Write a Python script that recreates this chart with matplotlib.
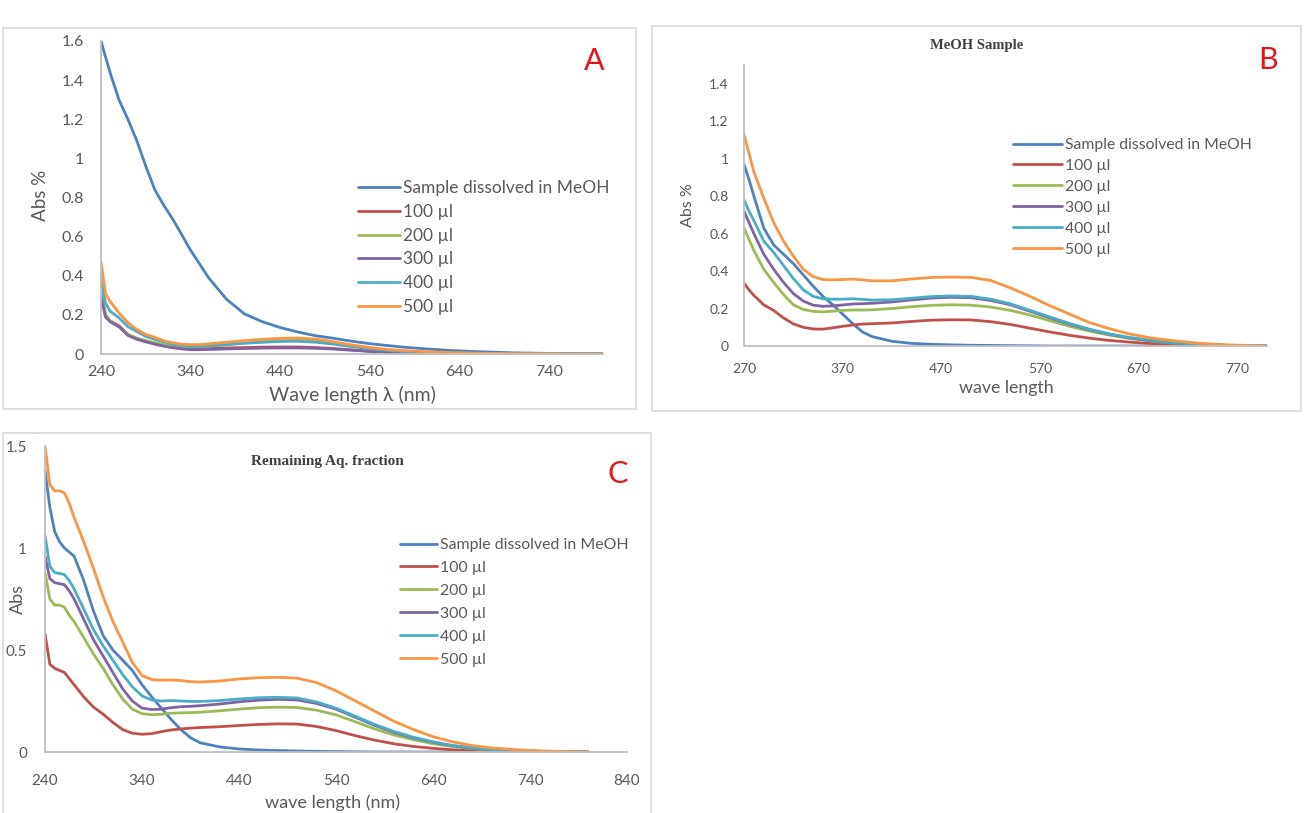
import matplotlib
matplotlib.use("Agg")
import matplotlib.pyplot as plt
from matplotlib.patches import Rectangle
from matplotlib.ticker import FuncFormatter

W, H = 1316, 813
FONT = ['Lato', 'DejaVu Sans']
plt.rcParams['font.family'] = FONT

series_labels = ["Sample dissolved in MeOH", "100 µl", "200 µl", "300 µl", "400 µl", "500 µl"]
colors = ['#4F81BD', '#C0504D', '#9BBB59', '#8064A2', '#4BACC6', '#F79646']

# ---------------- Panel A ----------------
wl_a = [240, 245, 250, 260, 270, 280, 290, 300, 310, 320, 330, 340, 350, 360, 380, 400,
        420, 440, 460, 480, 500, 520, 540, 560, 580, 600, 630, 660, 700, 740, 800]
a_meoh = [1.60, 1.52, 1.44, 1.30, 1.20, 1.09, 0.96, 0.84, 0.76, 0.69, 0.61, 0.53, 0.46, 0.39, 0.28, 0.205,
          0.165, 0.135, 0.112, 0.093, 0.080, 0.065, 0.053, 0.043, 0.034, 0.027, 0.018, 0.012, 0.006, 0.003, 0.0]
a_100 = [0.31, 0.20, 0.17, 0.145, 0.10, 0.08, 0.066, 0.055, 0.045, 0.036, 0.030, 0.027, 0.027, 0.028, 0.031, 0.033,
         0.035, 0.036, 0.036, 0.033, 0.028, 0.021, 0.015, 0.010, 0.007, 0.004, 0.002, 0.001, 0.0, 0.0, 0.0]
a_200 = [0.33, 0.20, 0.17, 0.14, 0.10, 0.08, 0.068, 0.058, 0.048, 0.040, 0.035, 0.035, 0.037, 0.040, 0.048, 0.056,
         0.063, 0.068, 0.070, 0.066, 0.055, 0.042, 0.030, 0.020, 0.013, 0.009, 0.005, 0.003, 0.001, 0.0, 0.0]
a_300 = [0.29, 0.19, 0.165, 0.14, 0.095, 0.075, 0.062, 0.050, 0.040, 0.032, 0.026, 0.022, 0.022, 0.023, 0.026, 0.028,
         0.030, 0.031, 0.031, 0.029, 0.025, 0.019, 0.013, 0.009, 0.006, 0.003, 0.002, 0.001, 0.0, 0.0, 0.0]
a_400 = [0.37, 0.26, 0.22, 0.185, 0.14, 0.115, 0.09, 0.075, 0.062, 0.050, 0.043, 0.040, 0.040, 0.042, 0.048, 0.055,
         0.060, 0.064, 0.065, 0.060, 0.050, 0.038, 0.027, 0.018, 0.012, 0.008, 0.005, 0.003, 0.001, 0.0, 0.0]
a_500 = [0.47, 0.31, 0.27, 0.21, 0.16, 0.125, 0.10, 0.085, 0.068, 0.057, 0.050, 0.048, 0.048, 0.052, 0.060, 0.068,
         0.075, 0.080, 0.082, 0.076, 0.062, 0.046, 0.033, 0.023, 0.017, 0.012, 0.007, 0.004, 0.002, 0.001, 0.0]

# ---------------- Panel B ----------------
wl_b = [270, 275, 280, 290, 300, 310, 320, 330, 340, 350, 360, 370, 380, 390, 400, 420, 440, 460,
        480, 500, 520, 540, 560, 580, 600, 620, 640, 660, 680, 700, 730, 760, 800]
b_meoh = [0.97, 0.89, 0.80, 0.63, 0.54, 0.49, 0.44, 0.38, 0.32, 0.265, 0.22, 0.17, 0.12, 0.075, 0.05, 0.025, 0.014, 0.009,
          0.006, 0.004, 0.003, 0.002, 0.001, 0.0, 0.0, 0.0, 0.0, 0.0, 0.0, 0.0, 0.0, 0.0, 0.0]
b_100 = [0.335, 0.30, 0.27, 0.22, 0.19, 0.15, 0.118, 0.10, 0.091, 0.09, 0.097, 0.105, 0.112, 0.117, 0.119, 0.123, 0.131, 0.138,
         0.14, 0.139, 0.13, 0.115, 0.095, 0.075, 0.057, 0.042, 0.03, 0.021, 0.014, 0.009, 0.004, 0.001, 0.0]
b_200 = [0.63, 0.57, 0.51, 0.41, 0.34, 0.275, 0.22, 0.195, 0.185, 0.182, 0.186, 0.19, 0.192, 0.192, 0.193, 0.20, 0.21, 0.217,
         0.22, 0.218, 0.208, 0.19, 0.165, 0.135, 0.105, 0.08, 0.058, 0.041, 0.028, 0.018, 0.008, 0.003, 0.0]
b_300 = [0.72, 0.66, 0.60, 0.49, 0.41, 0.34, 0.28, 0.24, 0.218, 0.212, 0.214, 0.219, 0.224, 0.226, 0.228, 0.235, 0.246, 0.256,
         0.26, 0.258, 0.243, 0.22, 0.185, 0.15, 0.116, 0.087, 0.063, 0.044, 0.03, 0.019, 0.008, 0.003, 0.0]
b_400 = [0.78, 0.72, 0.67, 0.56, 0.50, 0.43, 0.36, 0.30, 0.265, 0.252, 0.25, 0.25, 0.252, 0.249, 0.245, 0.247, 0.255, 0.264,
         0.267, 0.265, 0.25, 0.225, 0.19, 0.155, 0.12, 0.09, 0.065, 0.046, 0.032, 0.02, 0.009, 0.003, 0.0]
b_500 = [1.13, 1.03, 0.93, 0.79, 0.66, 0.56, 0.48, 0.41, 0.37, 0.355, 0.353, 0.355, 0.357, 0.353, 0.348, 0.348, 0.358, 0.366,
         0.368, 0.366, 0.35, 0.31, 0.265, 0.215, 0.17, 0.125, 0.093, 0.065, 0.045, 0.031, 0.015, 0.006, 0.0]

# ---------------- Panel C ----------------
wl_c = [240, 245, 250, 255, 260, 265, 270, 280, 290, 300, 310, 320, 330, 340, 350, 360, 370, 380, 390,
        400, 420, 440, 460, 480, 500, 520, 540, 560, 580, 600, 620, 640, 660, 680, 700, 730, 760, 800]
c_meoh = [1.38, 1.20, 1.08, 1.03, 1.00, 0.98, 0.96, 0.84, 0.69, 0.57, 0.50, 0.45, 0.40, 0.33, 0.27, 0.215, 0.16, 0.11, 0.07,
          0.045, 0.025, 0.015, 0.01, 0.007, 0.005, 0.003, 0.002, 0.001, 0.0, 0.0, 0.0, 0.0, 0.0, 0.0, 0.0, 0.0, 0.0, 0.0]
c_100 = [0.58, 0.43, 0.41, 0.40, 0.39, 0.36, 0.33, 0.27, 0.22, 0.185, 0.145, 0.11, 0.092, 0.087, 0.09, 0.10, 0.108, 0.113, 0.117,
         0.12, 0.124, 0.13, 0.135, 0.138, 0.137, 0.125, 0.105, 0.08, 0.058, 0.04, 0.027, 0.018, 0.011, 0.007, 0.004, 0.002, 0.001, 0.0]
c_200 = [0.88, 0.75, 0.72, 0.72, 0.71, 0.67, 0.64, 0.56, 0.48, 0.41, 0.33, 0.26, 0.21, 0.188, 0.183, 0.185, 0.19, 0.192, 0.193,
         0.195, 0.202, 0.21, 0.217, 0.22, 0.218, 0.205, 0.182, 0.148, 0.113, 0.083, 0.06, 0.041, 0.027, 0.017, 0.01, 0.004, 0.001, 0.0]
c_300 = [0.96, 0.85, 0.83, 0.825, 0.82, 0.79, 0.75, 0.65, 0.55, 0.47, 0.39, 0.31, 0.25, 0.215, 0.208, 0.21, 0.217, 0.222, 0.224,
         0.227, 0.235, 0.246, 0.254, 0.258, 0.255, 0.238, 0.21, 0.17, 0.13, 0.096, 0.069, 0.048, 0.031, 0.019, 0.011, 0.005, 0.002, 0.0]
c_400 = [1.06, 0.91, 0.88, 0.875, 0.87, 0.84, 0.80, 0.70, 0.60, 0.52, 0.45, 0.38, 0.32, 0.275, 0.255, 0.25, 0.252, 0.25, 0.248,
         0.248, 0.252, 0.26, 0.266, 0.268, 0.265, 0.245, 0.215, 0.175, 0.135, 0.10, 0.072, 0.05, 0.032, 0.02, 0.012, 0.005, 0.002, 0.0]
c_500 = [1.50, 1.31, 1.28, 1.28, 1.27, 1.22, 1.15, 1.03, 0.90, 0.76, 0.64, 0.54, 0.44, 0.375, 0.355, 0.352, 0.353, 0.35, 0.345,
         0.343, 0.348, 0.358, 0.364, 0.366, 0.362, 0.34, 0.30, 0.25, 0.20, 0.15, 0.11, 0.075, 0.05, 0.032, 0.02, 0.01, 0.004, 0.0]

fig = plt.figure(figsize=(W / 100, H / 100), dpi=100)
fig.patch.set_facecolor('white')


def fx(px):
    return px / W


def fy(py):
    return 1 - py / H


def frame(x0, y0, x1, y1):
    fig.add_artist(Rectangle((fx(x0), fy(y1)), fx(x1) - fx(x0), fy(y0) - fy(y1),
                             transform=fig.transFigure, fill=False, edgecolor='#d9d9d9', lw=1.2))


def fmt(v, pos=None):
    return ('%.1f' % v).rstrip('0').rstrip('.') if v != 0 else '0'


def make_axes(left, right, top, bottom, xlim, ylim, xticks, yticks, tick_fs, xpad, ypad):
    ax = fig.add_axes([fx(left), fy(bottom), fx(right) - fx(left), fy(top) - fy(bottom)])
    ax.set_xlim(*xlim)
    ax.set_ylim(*ylim)
    ax.set_xticks(xticks)
    ax.set_yticks(yticks)
    ax.yaxis.set_major_formatter(FuncFormatter(fmt))
    for s in ['top', 'right']:
        ax.spines[s].set_visible(False)
    for s in ['left', 'bottom']:
        ax.spines[s].set_color('#bfbfbf')
        ax.spines[s].set_linewidth(1.3)
    ax.tick_params(axis='both', length=0, labelsize=tick_fs, labelcolor='#595959')
    ax.tick_params(axis='x', pad=xpad)
    ax.tick_params(axis='y', pad=ypad)
    ax.patch.set_alpha(0)
    return ax


def draw(ax, wl, ys, leg_xy, leg_fs, hlen, lspace):
    lines = []
    for y, c, lab in zip(ys, colors, series_labels):
        ln, = ax.plot(wl, y, color=c, lw=2.0, label=lab, solid_capstyle='round', clip_on=True)
        lines.append(ln)
    leg = ax.legend(handles=lines, loc='upper left', bbox_to_anchor=(fx(leg_xy[0]), fy(leg_xy[1])),
                    bbox_transform=fig.transFigure, frameon=False, fontsize=leg_fs,
                    handlelength=hlen, handletextpad=0.2, labelspacing=lspace,
                    borderpad=0, borderaxespad=0)
    for t in leg.get_texts():
        t.set_color('#595959')


# Frames
frame(3, 28, 636, 409)
frame(652, 26, 1301, 411)
frame(3, 433, 651, 830)

# Panel A
axA = make_axes(101, 603, 41, 354, (240, 800), (0, 1.6), [240, 340, 440, 540, 640, 740],
                [0, 0.2, 0.4, 0.6, 0.8, 1.0, 1.2, 1.4, 1.6], 11.5, 8, 12)
draw(axA, wl_a, [a_meoh, a_100, a_200, a_300, a_400, a_500], (358, 180), 12.5, 2.4, 0.45)
fig.text(fx(41), fy(195), 'Abs %', rotation=90, ha='center', va='center', fontsize=13.5, color='#595959')
fig.text(fx(352), fy(395), 'Wave length λ (nm)', ha='center', va='center', fontsize=14, color='#595959')
fig.text(fx(594), fy(61), 'A', ha='center', va='center', fontsize=22, color='#e3151a')

# Panel B
axB = make_axes(744, 1267, 65, 346, (270, 800), (0, 1.5), [270, 370, 470, 570, 670, 770],
                [0, 0.2, 0.4, 0.6, 0.8, 1.0, 1.2, 1.4], 10, 12, 11)
draw(axB, wl_b, [b_meoh, b_100, b_200, b_300, b_400, b_500], (1013, 138), 11.3, 3.1, 0.44)
fig.text(fx(688), fy(205), 'Abs %', rotation=90, ha='center', va='center', fontsize=11.5, color='#595959')
fig.text(fx(1006), fy(388), 'wave length', ha='center', va='center', fontsize=12.8, color='#595959')
fig.text(fx(977), fy(46), 'MeOH Sample', ha='center', va='center', fontsize=10.5, fontweight='bold',
         family=['Liberation Serif', 'DejaVu Serif'], color='#404040')
fig.text(fx(1268), fy(60), 'B', ha='center', va='center', fontsize=22, color='#e3151a')

# Panel C
axC = make_axes(45, 627, 446, 752, (240, 840), (0, 1.5), [240, 340, 440, 540, 640, 740, 840],
                [0, 0.5, 1.0, 1.5], 11, 16, 13)
draw(axC, wl_c, [c_meoh, c_100, c_200, c_300, c_400, c_500], (400, 538), 11.4, 2.35, 0.56)
fig.text(fx(18), fy(599), 'Abs', rotation=90, ha='center', va='center', fontsize=13, color='#595959')
fig.text(fx(333), fy(803), 'wave length (nm)', ha='center', va='center', fontsize=13, color='#595959')
fig.text(fx(327), fy(461), 'Remaining Aq. fraction', ha='center', va='center', fontsize=11, fontweight='bold',
         family=['Liberation Serif', 'DejaVu Serif'], color='#404040')
fig.text(fx(618), fy(474), 'C', ha='center', va='center', fontsize=22, color='#e3151a')

fig.savefig('out.png', dpi=100, facecolor='white')
